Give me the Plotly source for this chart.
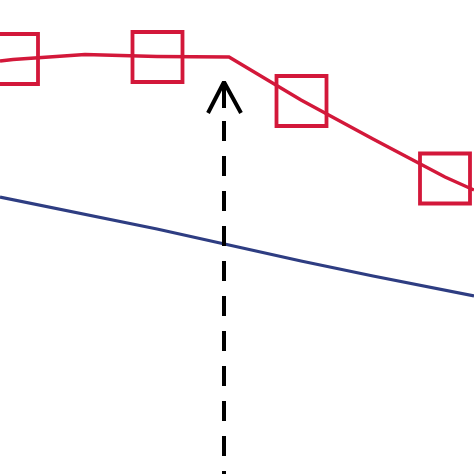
import plotly.graph_objects as go

# Data (values in chart units; y grows downward as in the picture's scale)
red_x = [0, 13, 85, 157, 229, 301, 373, 445, 474]
red_y = [61, 59.5, 54.5, 56.5, 57, 100, 139, 177, 190]
marker_x = [13, 157.5, 301.5, 445]
marker_y = [59, 57, 101, 178.5]

blue_x = [0, 85, 157, 229, 301, 373, 445, 474]
blue_y = [197, 214, 229, 245, 261, 276, 290, 296]

arrow_x = [224, 224]
arrow_shaft_y = [121, 480]
arrow_tip_y = [82, 108]
chevron_x = [208, 224, 241]
chevron_y = [113, 82, 113]

RED = "#d3183a"
BLUE = "#2e3d82"

fig = go.Figure()
fig.add_trace(go.Scatter(x=red_x, y=red_y, mode="lines",
                         line=dict(color=RED, width=3.4), hoverinfo="skip"))
fig.add_trace(go.Scatter(x=marker_x, y=marker_y, mode="markers",
                         marker=dict(symbol="square-open", size=50,
                                     color=RED, line=dict(color=RED, width=3.8)),
                         hoverinfo="skip"))
fig.add_trace(go.Scatter(x=blue_x, y=blue_y, mode="lines",
                         line=dict(color=BLUE, width=3.2), hoverinfo="skip"))
fig.add_trace(go.Scatter(x=arrow_x, y=arrow_shaft_y, mode="lines",
                         line=dict(color="black", width=4, dash="20px,15px"),
                         hoverinfo="skip"))
fig.add_trace(go.Scatter(x=arrow_x, y=arrow_tip_y, mode="lines",
                         line=dict(color="black", width=4), hoverinfo="skip"))
fig.add_trace(go.Scatter(x=chevron_x, y=chevron_y, mode="lines",
                         line=dict(color="black", width=4), hoverinfo="skip"))

fig.update_layout(
    width=474, height=474,
    margin=dict(l=0, r=0, t=0, b=0),
    paper_bgcolor="white", plot_bgcolor="white",
    showlegend=False,
    xaxis=dict(range=[0, 474], visible=False, fixedrange=True),
    yaxis=dict(range=[474, 0], visible=False, fixedrange=True),
)
fig.write_html("out.html", config={"displayModeBar": False},
               post_script="document.body.style.margin='0';document.body.style.overflow='hidden';")
